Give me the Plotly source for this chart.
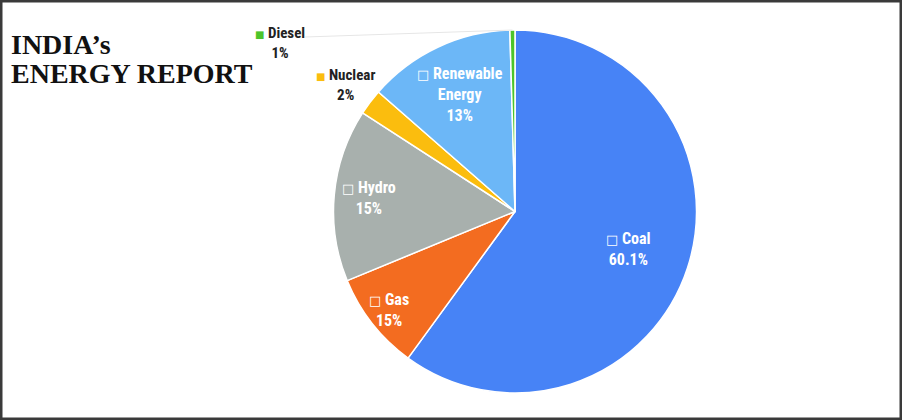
import math
import plotly.graph_objects as go

# ---- data ----
labels = ["Coal", "Gas", "Hydro", "Nuclear", "Renewable Energy", "Diesel"]
values = [60.0, 8.75, 15.35, 2.3, 13.1, 0.45]          # slice sizes as drawn
shown_pct = ["60.1%", "15%", "15%", "2%", "13%", "1%"]  # percentages printed on the chart
colors = ["#4783f6", "#f36c20", "#a8b0ad", "#fbbd0e", "#6cb7f7", "#4cc42a"]
title_lines = ["INDIA\u2019s", "ENERGY REPORT"]

# ---- layout / style ----
W, H = 902, 420
dom_x = [333 / W, 697 / W]
dom_y = [1 - 393 / H, 1 - 30 / H]
label_radius = [0.66, 0.88, 0.81, None, 0.71, None]   # where inside labels sit (fraction of radius)
narrow = "Roboto Condensed, Noto Sans Condensed, DejaVu Sans Condensed, sans-serif"

fig = go.Figure(go.Pie(
    labels=labels,
    values=values,
    textinfo="none",
    marker=dict(colors=colors, line=dict(color="white", width=1.5)),
    sort=False,
    direction="clockwise",
    rotation=0,
    showlegend=False,
    domain=dict(x=dom_x, y=dom_y),
    hoverinfo="label+percent",
))

total = sum(values)
cx, cy = (dom_x[0] + dom_x[1]) / 2, (dom_y[0] + dom_y[1]) / 2
r_px = (dom_y[1] - dom_y[0]) * H / 2


def slice_point(i, frac):
    start = sum(values[:i])
    ang = (start + values[i] / 2) / total * 2 * math.pi
    return cx + frac * r_px * math.sin(ang) / W, cy + frac * r_px * math.cos(ang) / H


sq = '<span style="font-family:DejaVu Sans;font-size:13px">\u25a1</span>'
for i, (lab, pct) in enumerate(zip(labels, shown_pct)):
    if label_radius[i] is None:
        continue
    x, y = slice_point(i, label_radius[i])
    name = lab.replace(" ", "<br>")
    fig.add_annotation(
        x=x, y=y, xref="paper", yref="paper",
        text=f"<b>{sq} {name}<br>{pct}</b>",
        showarrow=False, align="center", xanchor="center", yanchor="middle",
        font=dict(family=narrow, size=16, color="white"),
    )

lab_font = dict(family=narrow, size=15, color="#222222")
outside = [("Diesel", 280, 43.5), ("Nuclear", 345, 85.5)]
for name, px, py in outside:
    i = labels.index(name)
    fig.add_annotation(
        x=px / W, y=1 - py / H, xref="paper", yref="paper",
        text=f'<span style="color:{colors[i]};font-family:DejaVu Sans;font-size:10px">\u25a0</span> <b>{name}</b><br><b>{shown_pct[i]}</b>',
        showarrow=False, font=lab_font, align="center",
        xanchor="center", yanchor="middle",
    )

# faint leader line from Diesel label to its slice (slice point computed from data)
sx, sy = slice_point(labels.index("Diesel"), 1.0)
fig.add_shape(type="line", xref="paper", yref="paper",
              x0=305 / W, y0=1 - 37 / H, x1=sx, y1=sy,
              line=dict(color="#e6e6e6", width=1))

title_font = dict(family="Liberation Serif, Times New Roman, serif", size=28, color="#111111")
for line, ypx in zip(title_lines, [45, 73]):
    fig.add_annotation(
        x=9 / W, y=1 - ypx / H, xref="paper", yref="paper",
        text=f"<b>{line}</b>", showarrow=False, font=title_font,
        xanchor="left", yanchor="middle",
    )

# frame
fig.add_shape(type="rect", xref="paper", yref="paper", x0=0, y0=0, x1=1, y1=1,
              line=dict(color="#3a3a3a", width=5))

fig.update_layout(
    width=W, height=H,
    margin=dict(l=0, r=0, t=0, b=0),
    paper_bgcolor="white", plot_bgcolor="white",
)

fig.write_html("out.html",
               config={"displayModeBar": False},
               post_script="document.body.style.margin='0';document.body.style.padding='0';")
